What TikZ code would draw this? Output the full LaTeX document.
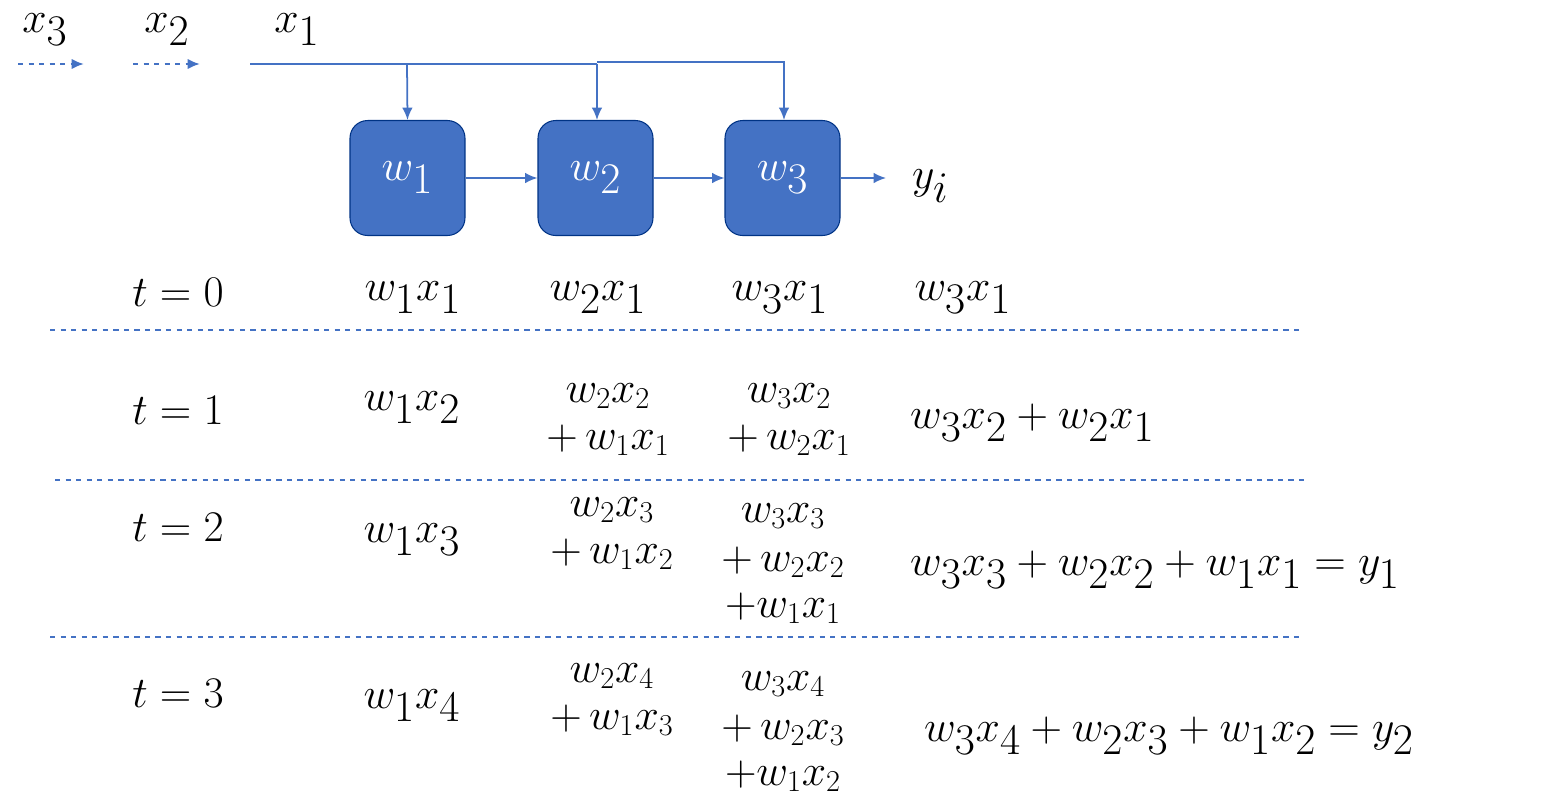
\documentclass[tikz,border=0pt]{standalone}
\usepackage{amsmath}
\usetikzlibrary{arrows.meta}
\begin{document}
\begin{tikzpicture}[x=0.02cm,y=-0.02cm,
  box/.style={draw=blue!40!black!80!cyan,fill={rgb,255:red,68;green,114;blue,196},rounded corners=10pt,minimum width=2.3cm,minimum height=2.3cm,line width=0.6pt},
  ln/.style={draw={rgb,255:red,68;green,114;blue,196},line width=1pt},
  ar/.style={ln,-{Latex[length=7pt,width=6pt]}},
  big/.style={font=\fontsize{36}{42}\selectfont},
  sm/.style={font=\fontsize{23}{27}\selectfont},
  sep/.style={draw={rgb,255:red,68;green,114;blue,196},dashed,line width=0.6pt}]
\useasboundingbox (0,0) rectangle (1550,796);
\node[box] (b1) at (407.5,178) {};
\node[box] (b2) at (595.5,178) {};
\node[box] (b3) at (782.5,178) {};
\node[big,text=white] at (b1) {$w_1$};
\node[big,text=white] at (b2) {$w_2$};
\node[big,text=white] at (b3) {$w_3$};
\coordinate (s) at (250,64);
\coordinate (m) at (597,64);
\coordinate (m2) at (597,62);
\coordinate (r) at (784,62);
\draw[ln] (s) -- (m);
\draw[ar] (407,64) -- (b1.north);
\draw[ar] (m) -- (b2.north -| m);
\draw[ar] (m2) -- (r) -- (b3.north -| r);
\coordinate (d1a) at (18,64); \coordinate (d1b) at (84,64);
\coordinate (d2a) at (133,64); \coordinate (d2b) at (200,64);
\draw[ar,dashed,line width=1.5pt] (d1a) -- (d1b);
\draw[ar,dashed,line width=1.5pt] (d2a) -- (d2b);
\node[big] (x3) at (45,30) {$x_3$};
\node[big] (x2) at (167,30) {$x_2$};
\node[big] (x1) at (297,30) {$x_1$};
\node[big,anchor=west] (y) at (906,186) {$y_i$};
\coordinate (ye) at (886,178);
\draw[ar] (b1) -- (b2);
\draw[ar] (b2) -- (b3);
\draw[ar] (b3.east) -- (ye);
% rows
\node[big] at (178,292) {$t=0$};
\node[big] at (413,298) {$w_1x_1$};
\node[big] at (598,298) {$w_2x_1$};
\node[big] at (780,298) {$w_3x_1$};
\node[big] at (963,298) {$w_3x_1$};
\draw[sep] (50,330) -- (1302,330);
\node[big] at (178,410) {$t=1$};
\node[big] at (412,408) {$w_1x_2$};
\node[sm] at (608,396) {$w_2x_2$};
\node[sm] at (608,440) {$+\,w_1x_1$};
\node[sm] at (789,396) {$w_3x_2$};
\node[sm] at (789,440) {$+\,w_2x_1$};
\node[big,anchor=west] at (904,423) {$w_3x_2+w_2x_1$};
\draw[sep] (55,480) -- (1307,480);
\node[big] at (178,527) {$t=2$};
\node[big] at (412,540) {$w_1x_3$};
\node[sm] at (612,510) {$w_2x_3$};
\node[sm] at (612,554) {$+\,w_1x_2$};
\node[sm] at (783,516) {$w_3x_3$};
\node[sm] at (783,562) {$+\,w_2x_2$};
\node[sm] at (783,608) {$+w_1x_1$};
\node[big,anchor=west] at (904,570) {$w_3x_3+w_2x_2+w_1x_1=y_1$};
\draw[sep] (50,637) -- (1302,637);
\node[big] at (178,693) {$t=3$};
\node[big] at (412,706) {$w_1x_4$};
\node[sm] at (612,676) {$w_2x_4$};
\node[sm] at (612,720) {$+\,w_1x_3$};
\node[sm] at (783,684) {$w_3x_4$};
\node[sm] at (783,730) {$+\,w_2x_3$};
\node[sm] at (783,776) {$+w_1x_2$};
\node[big,anchor=west] at (918,736) {$w_3x_4+w_2x_3+w_1x_2=y_2$};
\end{tikzpicture}
\end{document}
